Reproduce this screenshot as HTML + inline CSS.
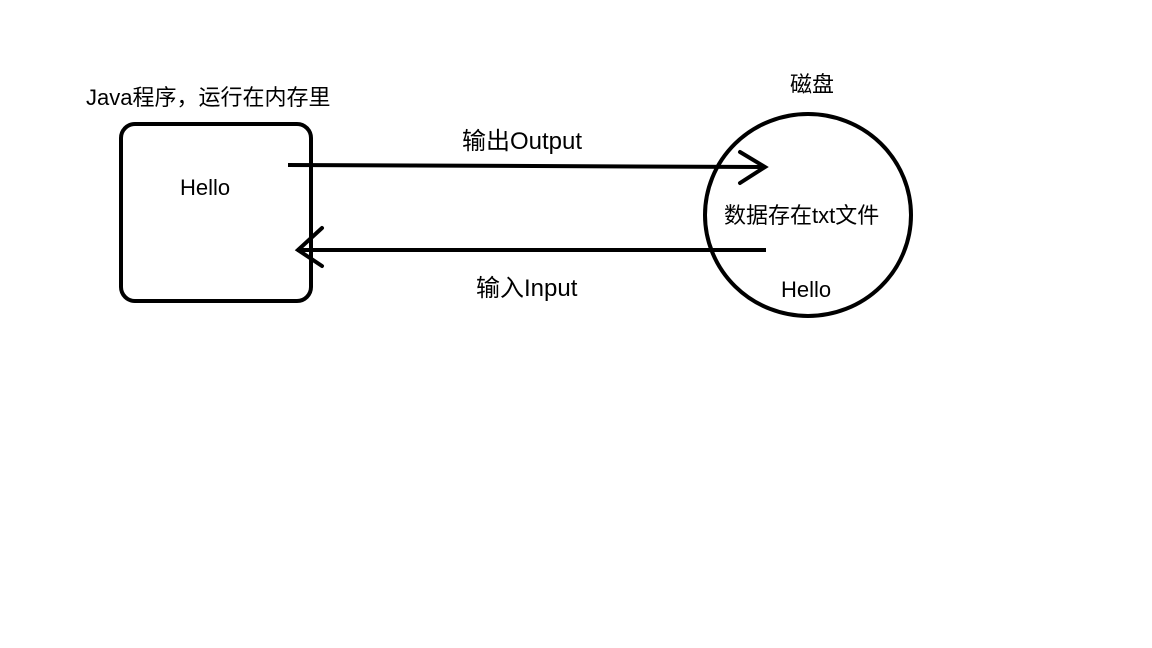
<!DOCTYPE html>
<html><head><meta charset="utf-8"><style>
body{margin:0;width:1152px;height:648px;background:#fff;overflow:hidden;position:relative;font-family:"Liberation Sans","Noto Sans CJK SC",sans-serif;color:#000}
.t{position:absolute;white-space:nowrap;font-size:22px}
</style></head><body>
<svg width="1152" height="648" style="position:absolute;left:0;top:0">
<rect x="121" y="124" width="190" height="177" rx="14" fill="none" stroke="#000" stroke-width="4"/>
<ellipse cx="808" cy="215" rx="103" ry="101" fill="none" stroke="#000" stroke-width="4"/>
<path d="M288 165 L765 167" stroke="#000" stroke-width="4" fill="none"/>
<path d="M740 152 L765 167 L740 183" stroke="#000" stroke-width="4" fill="none" stroke-linecap="round"/>
<path d="M297 250 L766 250" stroke="#000" stroke-width="4" fill="none"/>
<path d="M322 228 L298 250 L322 266" stroke="#000" stroke-width="4" fill="none" stroke-linecap="round"/>
</svg>
<div class="t" style="left:86px;top:80px">Java程序，运行在内存里</div>
<div class="t" style="left:180px;top:175px">Hello</div>
<div class="t" style="left:790px;top:67px">磁盘</div>
<div class="t" style="left:462px;top:121px;font-size:24px">输出Output</div>
<div class="t" style="left:724px;top:198px">数据存在txt文件</div>
<div class="t" style="left:476px;top:268px;font-size:24px">输入Input</div>
<div class="t" style="left:781px;top:277px">Hello</div>
</body></html>
